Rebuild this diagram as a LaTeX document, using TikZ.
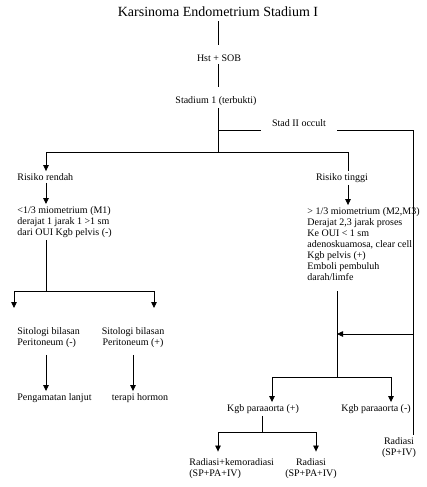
\documentclass[tikz,border=0pt]{standalone}
\usepackage{fontspec}
\setmainfont{Liberation Serif}
\usetikzlibrary{arrows.meta}

\begin{document}
\begin{tikzpicture}[x=1pt,y=-1pt,line width=0.8pt,
  >={Triangle[width=5.5pt,length=6pt]},
  every node/.style={inner sep=2pt,font=\fontsize{10}{11}\selectfont},
  kiri/.style={anchor=west,align=left},
  tengah/.style={align=center}]
\useasboundingbox (0,0) rectangle (427,487);

\node[font=\fontsize{14}{16}\selectfont,inner sep=4pt] (judul) at (218,12) {Karsinoma Endometrium Stadium I};
\node (hst) at (219,58) {Hst + SOB};
\node (stad) at (216,101) {Stadium 1 (terbukti)};
\node[inner xsep=11pt] (occ) at (299,123) {Stad II occult};
\node[kiri] (rr) at (15,177) {Risiko rendah};
\node (rt) at (342,178) {Risiko tinggi};
\node[kiri] (rendah) at (15,222) {<1/3 miometrium (M1)\\derajat 1 jarak 1 >1 sm\\dari OUI Kgb pelvis (-)};
\node[kiri] (tinggi) at (305,244) {> 1/3 miometrium (M2,M3)\\Derajat 2,3 jarak proses\\Ke OUI < 1 sm\\adenoskuamosa, clear cell\\Kgb pelvis (+)\\Emboli pembuluh\\darah/limfe};
\node[kiri] (sitm) at (15,337.5) {Sitologi bilasan\\Peritoneum (-)};
\node[tengah] (sitp) at (133,337.5) {Sitologi bilasan\\Peritoneum (+)};
\node[kiri] (amat) at (15,398) {Pengamatan lanjut};
\node (hormon) at (140,398) {terapi hormon};
\node (kgbp) at (263,409) {Kgb paraaorta (+)};
\node (kgbn) at (376,409) {Kgb paraaorta (-)};
\node[kiri] (kemo) at (187,469) {Radiasi+kemoradiasi\\(SP+PA+IV)};
\node[tengah] (rad) at (311,469) {Radiasi\\(SP+PA+IV)};
\node[tengah] (radsp) at (399,447.5) {Radiasi\\(SP+IV)};

% titik cabang
\coordinate (j0) at (218,130);
\coordinate (j1) at (218,152);
\coordinate (kn) at (413,130);
\coordinate (lr) at (46,152);
\coordinate (tr) at (348,152);
\coordinate (la) at (46,291);
\coordinate (s1) at (14,291);
\coordinate (s2) at (154,291);
\coordinate (s1e) at (14,308);
\coordinate (s2e) at (154,308);
\coordinate (m1) at (337,291);
\coordinate (m2) at (337,377);
\coordinate (ak) at (337,334);
\coordinate (k1) at (272,377);
\coordinate (k2) at (391,377);
\coordinate (r0) at (262,432);
\coordinate (r1) at (218,432);
\coordinate (r2) at (316,432);

\draw[shorten >=7.5pt] (judul.south) -- (judul.south |- hst.north);
\draw[shorten >=7pt] (judul.south |- hst.south) -- (judul.south |- stad.north);
\draw (judul.south |- stad.south) -- (j1);
\draw (j0) -- (j0 -| occ.west);
\draw (occ.east |- j0) -- (kn) -- (kn |- radsp.north);
\draw[->] (kn |- ak) -- (ak);

\draw (lr) -- (tr);
\draw[->] (lr) -- (lr |- rr.north);
\draw (tr) -- (tr |- rt.north);
\draw[->] (lr |- rr.south) -- (lr |- rendah.north);
\draw[->] (tr |- rt.south) -- (tr |- tinggi.north);

\draw (lr |- rendah.south) -- (la);
\draw (s1) -- (s2);
\draw[->] (s1) -- (s1e);
\draw[->] (s2) -- (s2e);
\draw[->,shorten <=5pt] (lr |- sitm.south) -- (lr |- amat.north);
\draw[->,shorten <=5pt] (sitp.south) -- (sitp.south |- hormon.north);

\draw (m1) -- (m2);
\draw (k1) -- (k2);
\draw[->] (k1) -- (k1 |- kgbp.north);
\draw[->] (k2) -- (k2 |- kgbn.north);
\draw (r0 |- kgbp.south) -- (r0);
\draw (r1) -- (r2);
\draw[->,shorten >=5pt] (r1) -- (r1 |- kemo.north);
\draw[->,shorten >=5pt] (r2) -- (r2 |- rad.north);
\end{tikzpicture}
\end{document}
